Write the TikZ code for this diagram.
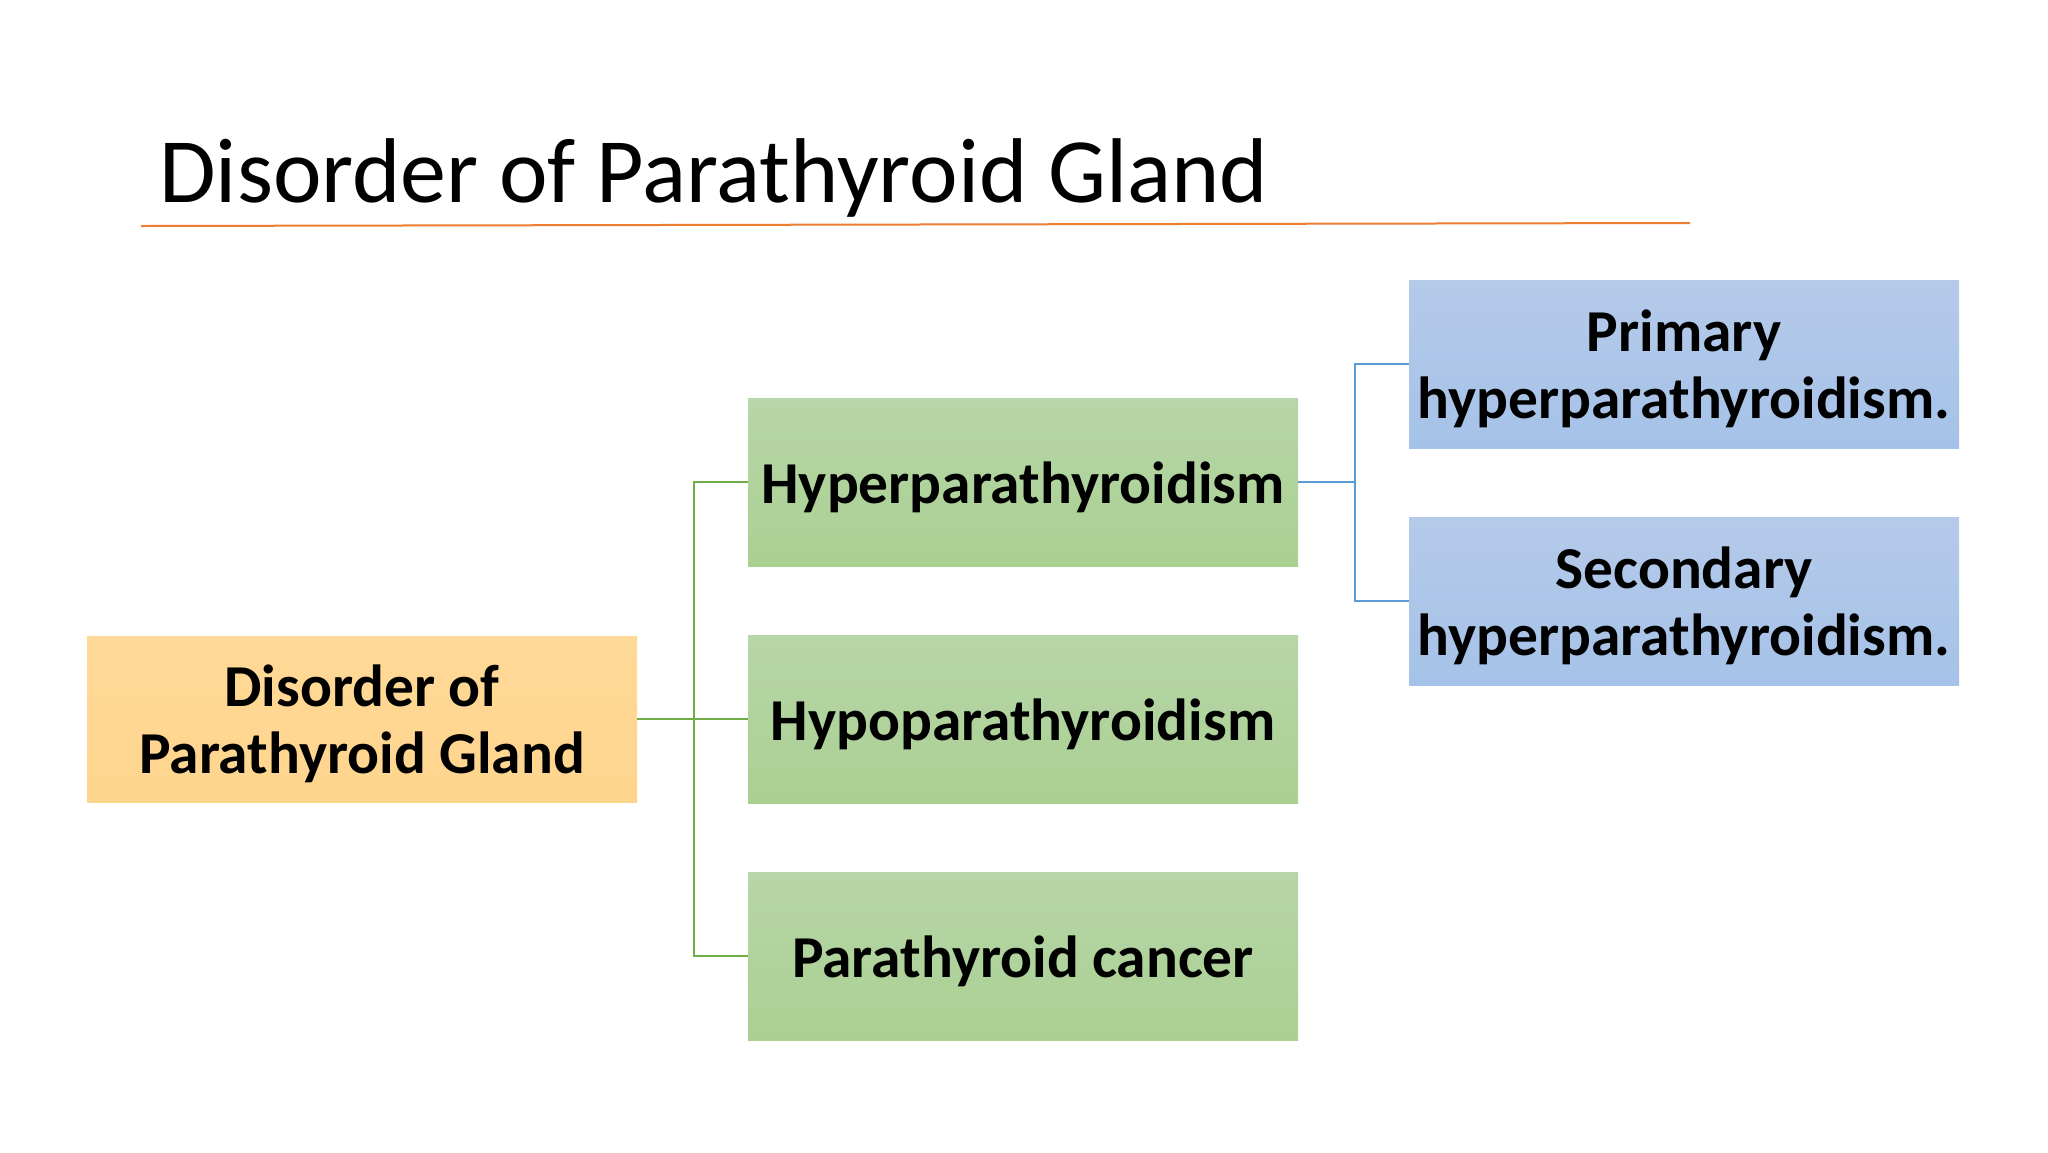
\documentclass[tikz,border=0pt]{standalone}
\usepackage{fontspec}
\setmainfont{Carlito}
\definecolor{grtop}{HTML}{B7D6A9}
\definecolor{grbot}{HTML}{AAD091}
\definecolor{bltop}{HTML}{B5CAE9}
\definecolor{blbot}{HTML}{A5C2E8}
\definecolor{ortop}{HTML}{FFD998}
\definecolor{orbot}{HTML}{FFD58D}
\definecolor{gline}{HTML}{70AD47}
\definecolor{bline}{HTML}{5B9BD5}
\definecolor{oline}{HTML}{ED7D31}
\begin{document}
\begin{tikzpicture}[x=0.5pt,y=-0.5pt,
  box/.style={rectangle, inner sep=0pt, minimum width=275pt, minimum height=84pt},
  greenbox/.style={box, top color=grtop, bottom color=grbot},
  bluebox/.style={box, top color=bltop, bottom color=blbot},
  orangebox/.style={box, minimum height=83pt, top color=ortop, bottom color=orbot},
  boxtext/.style={inner sep=0pt, align=center, text=black, yshift=-2.5pt,
    font=\fontsize{29.7}{33.3}\selectfont\bfseries},
  gconn/.style={draw=gline, line width=1pt},
  bconn/.style={draw=bline, line width=1pt}]
\useasboundingbox[fill=white] (0,0) rectangle (2048,1152);

\node[anchor=base west, inner sep=0pt, font=\fontsize{46}{54}\selectfont] (title) at (159,202) {Disorder of Parathyroid Gland};
\coordinate (ulA) at (141,226);
\coordinate (ulB) at (1690,223);
\draw[draw=oline, line width=1pt] (ulA) -- (ulB);

\node[orangebox] (root) at (362,719) {};
\node[greenbox] (hyper) at (1023,482) {};
\node[greenbox] (hypo) at (1023,719) {};
\node[greenbox] (cancer) at (1023,956) {};
\node[bluebox] (prim) at (1684,364) {};
\node[bluebox] (sec) at (1684,601) {};

\node[boxtext] (rootT) at (root.center) {Disorder of\\Parathyroid Gland};
\node[boxtext] (hyperT) at (hyper.center) {Hyperparathyroidism};
\node[boxtext] (hypoT) at (hypo.center) {Hypoparathyroidism};
\node[boxtext] (cancerT) at (cancer.center) {Parathyroid cancer};
\node[boxtext] (primT) at (prim.center) {Primary\\hyperparathyroidism.};
\node[boxtext] (secT) at (sec.center) {Secondary\\hyperparathyroidism.};

\coordinate (jg) at (693.5,719);
\coordinate (jb) at (1355,482);
\draw[gconn] (root.east) -- (hypo.west);
\draw[gconn] (hyper.west) -| (jg) |- (cancer.west);
\draw[bconn] (hyper.east) -- (jb);
\draw[bconn] (prim.west) -| (jb) |- (sec.west);
\end{tikzpicture}
\end{document}
